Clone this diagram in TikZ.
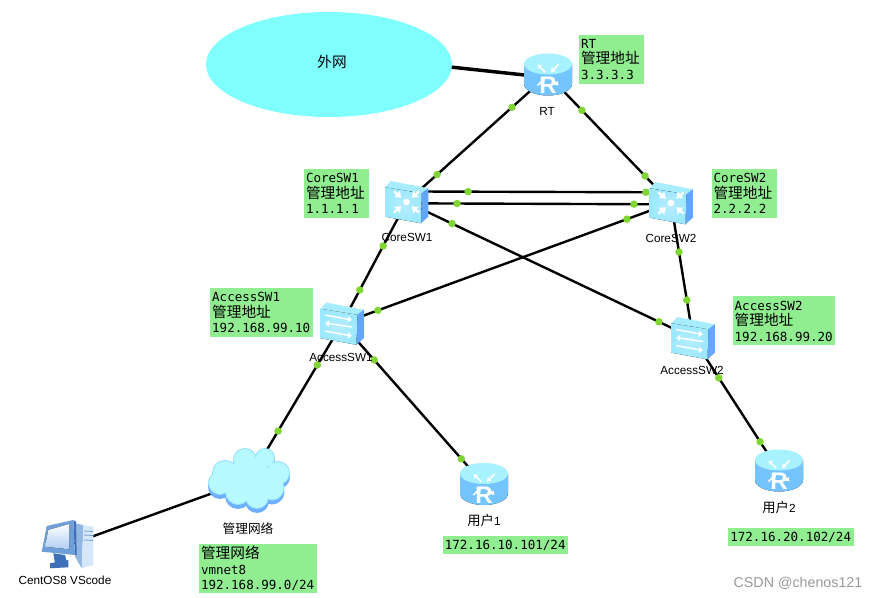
\documentclass[tikz,border=0pt]{standalone}
\usepackage{fontspec}
\setmainfont{Liberation Sans}
\setmonofont{DejaVu Sans Mono}
\newfontfamily\cjkfont{Noto Sans CJK SC}
\usetikzlibrary{shapes.geometric,arrows.meta,backgrounds}
\definecolor{wancolor}{HTML}{80FFFF}
\definecolor{addrgreen}{HTML}{90EE90}
\definecolor{portgreen}{HTML}{7FD633}
\definecolor{rtedge}{HTML}{74C4FF}
\definecolor{rtmid}{HTML}{A8E6FF}
\definecolor{rttop}{HTML}{A8F2FF}
\definecolor{swtop}{HTML}{A6EEFF}
\definecolor{swside}{HTML}{62A6FF}
\definecolor{swfront}{HTML}{9CE8FF}
\definecolor{cloudshadow}{HTML}{6EB0FF}
\definecolor{cloudedge}{HTML}{92DFFF}
\definecolor{cloudfill}{HTML}{B6FAFF}
\definecolor{pcblue}{HTML}{6F9FD8}
\definecolor{pcdark}{HTML}{3F6FB8}
\definecolor{pcscreen}{HTML}{AFCCF0}
\definecolor{pcpanel}{HTML}{D6E7F9}
\newcommand{\mgmt}{{\cjkfont\fontsize{11}{11.6}\selectfont 管理地址}}
\newcommand{\routericon}{
  \begin{scope}[shift={(path picture bounding box.center)}]
    \fill[left color=rtedge, middle color=rtmid, right color=rtedge] (-24,-11) -- (-24,9) arc[start angle=180,end angle=0,x radius=24,y radius=11.5] -- (24,-11) -- cycle;
    \fill[rttop] (0,-11) ellipse[x radius=24,y radius=10.5];
    \begin{scope}[shift={(0,-11)},yscale=.55]
      \foreach \a in {45,225} \draw[white,line width=1.1pt,-{Latex[length=3pt,width=4.5pt]}] (\a:4) -- (\a:15);
      \foreach \a in {135,315} \draw[white,line width=1.1pt,-{Latex[length=3pt,width=4.5pt]}] (\a:15) -- (\a:4);
    \end{scope}
    \node[white,inner sep=0,font=\bfseries\fontsize{18}{19}\selectfont] (rletter) at (0,10.5) {R};
  \end{scope}}
\newcommand{\swbox}{
  \fill[swtop] (-21.5,-14.7) -- (-15.8,-21) -- (21.8,-13.7) -- (15.2,-8.7) -- cycle;
  \fill[swside] (15.2,-8.7) -- (21.8,-13.7) -- (21.8,14.7) -- (14.5,21.3) -- cycle;
  \fill[inner color=swfront!75!white, outer color=swfront] (-21.5,-14.7) -- (15.2,-8.7) -- (14.5,21.3) -- (-21.5,14.7) -- cycle;}
\newcommand{\coreicon}{
  \begin{scope}[shift={(path picture bounding box.center)}]
    \swbox
    \begin{scope}[shift={(-3.8,3)}]
      \fill[white] (0,0) circle[radius=3.3];
      \foreach \a in {40,140,220,320}
        \draw[white,line width=1.7pt,-{Latex[length=4.5pt,width=7.5pt]}] (\a:16.5) -- (\a:6.5);
    \end{scope}
  \end{scope}}
\newcommand{\accessicon}{
  \begin{scope}[shift={(path picture bounding box.center)}]
    \swbox
    \draw[white,line width=1.1pt,-{Latex[length=3pt,width=5.5pt]}] (-17,-8.5) -- (10,-3.5);
    \draw[white,line width=1.1pt,-{Latex[length=3pt,width=5.5pt]}] (10,3.5) -- (-17,-.5);
    \draw[white,line width=1.1pt,-{Latex[length=3pt,width=5.5pt]}] (-17,7.5) -- (10,12.5);
  \end{scope}}
\newcommand{\cloudblob}[3]{
  \foreach \x/\y/\r in {-4/-20/12,16/-22/10,29/-7/12,-24/-7/13,-29/3/12,-11/12/13,8/17/12,23/8/12.5,0/-2/22}
    \fill[#1] (\x,\y+#3) circle[radius=\r+#2];}
\newcommand{\cloudicon}{
  \begin{scope}[shift={(path picture bounding box.center)}]
    \cloudblob{cloudshadow}{0}{4}
    \cloudblob{cloudedge}{0}{0}
    \cloudblob{cloudfill}{-1}{0}
  \end{scope}}
\newcommand{\pcicon}{
  \begin{scope}[shift={(path picture bounding box.center)}]
    \fill[pcblue!75!white] (9,-22.7) -- (17.3,-21) -- (15.7,22.3) -- (9,10.7) -- cycle;
    \fill[pcpanel] (17.3,-21) -- (27.3,-19.3) -- (27.3,19) -- (15.7,22.3) -- cycle;
    \foreach \y in {-15,-11,-6} \draw[pcblue,line width=.6pt] (18,\y) -- (27,\y+.5);
    \fill[pcdark] (-12.7,7.3) -- (-1,9) -- (.7,15.7) -- (-11,17.3) -- cycle;
    \fill[pcdark] (-16,17.3) -- (2.3,14) -- (2.3,21.3) -- (-16,22.3) -- cycle;
    \fill[pcdark] (7.3,-26) -- (10,-24.3) -- (10.7,9) -- (9,9) -- cycle;
    \fill[pcblue] (-19.3,-20) -- (7.3,-26) -- (9,9) -- (-24.3,5.7) -- cycle;
    \fill[top color=white, bottom color=pcscreen] (-17.7,-16) -- (3.3,-22) -- (3.3,3.3) -- (-21,.7) -- cycle;
  \end{scope}}
\begin{document}
\begin{tikzpicture}[x=.75pt,y=-.75pt,
    router/.style={inner sep=0, minimum width=36pt, minimum height=33pt, path picture={\routericon}},
    coresw/.style={inner sep=0, minimum size=33pt, path picture={\coreicon}},
    accesssw/.style={inner sep=0, minimum size=33pt, path picture={\accessicon}},
    netcloud/.style={inner sep=0, minimum width=63pt, minimum height=56pt, path picture={\cloudicon}},
    pcbox/.style={inner sep=0, minimum width=42pt, minimum height=41pt, path picture={\pcicon}},
    addr/.style={fill=addrgreen, inner xsep=1.5pt, inner ysep=0, text width=#1, minimum height=36.75pt, align=left, font=\ttfamily\fontsize{9.4}{11.6}\selectfont},
    addrline/.style={fill=addrgreen, inner xsep=1.5pt, inner ysep=0, text width=#1, minimum height=13.2pt, align=left, font=\ttfamily\fontsize{9.4}{11.6}\selectfont},
    devname/.style={inner sep=0, font=\fontsize{8.8}{10}\selectfont},
    port/.style={circle, fill=portgreen, inner sep=0, minimum size=5.6pt},
    link/.style={line width=1.8pt}
  ]
  \useasboundingbox (0,0) rectangle (878,598);

  \node[ellipse, fill=wancolor, minimum width=184.5pt, minimum height=78.75pt, inner sep=0] (wan) at (329,64.5) {};
  \node[devname, font=\cjkfont\fontsize{11}{12}\selectfont] (wanname) at (332,62) {外网};

  \node[router] (rt) at (548,75) {};
  \node[coresw] (core1) at (406.5,202) {};
  \node[coresw] (core2) at (671,203) {};
  \node[accesssw] (access1) at (342,323.5) {};
  \node[accesssw] (access2) at (693,338) {};
  \node[router] (user1) at (484,484.5) {};
  \node[router] (user2) at (779,471) {};
  \node[netcloud] (mgmtnet) at (249,480) {};
  \node[pcbox] (pc) at (66,546) {};

  \node[devname] (rtname) at (547,111) {RT};
  \node[devname] (core1name) at (407,237) {CoreSW1};
  \node[devname] (core2name) at (671,238) {CoreSW2};
  \node[devname] (access1name) at (341,357) {AccessSW1};
  \node[devname] (access2name) at (692,370) {AccessSW2};
  \node[devname] (user1name) at (484,520) {{\cjkfont\fontsize{10}{11}\selectfont 用户}1};
  \node[devname] (user2name) at (779,507) {{\cjkfont\fontsize{10}{11}\selectfont 用户}2};
  \node[devname, font=\cjkfont\fontsize{9.5}{11}\selectfont] (netname) at (248,529) {管理网络};
  \node[devname] (pcname) at (65,580) {CentOS8 VScode};

  \node[addr=45.75pt] (rtaddr) at (611.5,59.5) {RT\\\mgmt\\3.3.3.3};
  \node[addr=45.75pt] (core1addr) at (336.5,193.5) {CoreSW1\\\mgmt\\1.1.1.1};
  \node[addr=45.75pt] (core2addr) at (744,193.5) {CoreSW2\\\mgmt\\2.2.2.2};
  \node[addr=74pt] (access1addr) at (261.5,312.5) {AccessSW1\\\mgmt\\192.168.99.10};
  \node[addr=74pt] (access2addr) at (784,321) {AccessSW2\\\mgmt\\192.168.99.20};
  \node[addr=85.5pt] (netaddr) at (258,568.5) {{\cjkfont\fontsize{11}{11.6}\selectfont 管理网络}\\vmnet8\\192.168.99.0/24};
  \node[addrline=91pt] (user1addr) at (505.5,545) {172.16.10.101/24};
  \node[addrline=91pt] (user2addr) at (791,537) {172.16.20.102/24};

  \node[inner sep=0, text=black!40, font=\fontsize{10.7}{12}\selectfont] (mark) at (798,583) {CSDN @chenos121};

  \begin{scope}[on background layer]
    \draw[line width=2.6pt] ([yshift=7.9pt]wan.center) -- ([yshift=-1.9pt]rt.center);
    \draw[link] (rt.center) -- node[port,pos=.254] (p1) {} node[port,pos=.784] (p2) {} (core1.center);
    \draw[link] (rt.center) -- node[port,pos=.276] (p3) {} node[port,pos=.789] (p4) {} (core2.center);
    \draw[link] ([yshift=7.9pt]core1.center) -- node[port,pos=.233] (p5) {} node[port,pos=.905] (p6) {} ([yshift=8pt]core2.center);
    \draw[link] ([yshift=-1pt]core1.center) -- node[port,pos=.191] (p7) {} node[port,pos=.86] (p8) {} ([yshift=-1pt]core2.center);
    \draw[link] (core1.center) -- node[port,pos=.159] (p9) {} node[port,pos=.881] (p10) {} (access2.center);
    \draw[link] (core2.center) -- node[port,pos=.134] (p11) {} node[port,pos=.891] (p12) {} (access1.center);
    \draw[link] (core1.center) -- node[port,pos=.362] (p13) {} node[port,pos=.724] (p14) {} (access1.center);
    \draw[link] (core2.center) -- node[port,pos=.363] (p15) {} node[port,pos=.719] (p16) {} (access2.center);
    \draw[link] (access1.center) -- node[port,pos=.226] (p17) {} node[port,pos=.84] (p18) {} (user1.center);
    \draw[link] (access2.center) -- node[port,pos=.30] (p19) {} node[port,pos=.78] (p20) {} (user2.center);
    \draw[link] (access1.center) -- node[port,pos=.265] (p21) {} node[port,pos=.687] (p22) {} (mgmtnet.center);
    \draw[link] (mgmtnet.center) -- (pc.center);
  \end{scope}
\end{tikzpicture}
\end{document}
